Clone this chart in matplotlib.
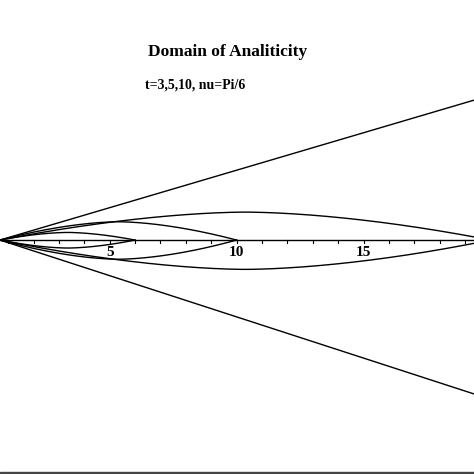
import numpy as np
import matplotlib.pyplot as plt

t_values = [3, 5, 10]
half_heights = [0.3, 0.72, 1.1]
x_start = 0.68
ray_slope = 0.295
ticks = [5, 10, 15]

fig = plt.figure(figsize=(4.74, 4.74), dpi=100)
ax = fig.add_axes([0, 0, 1, 1])
ax.set_xlim(x_start, 19.35)
ax.set_ylim(-9.21, 9.45)
ax.axis("off")

# rays from the origin
xs = np.linspace(x_start, 20, 50)
ax.plot(xs, ray_slope * (xs - x_start), color="black", lw=1)
ax.plot(xs, -ray_slope * 1.1 * (xs - x_start), color="black", lw=1)

# lens shaped domains
for t, h in zip(t_values, half_heights):
    x = np.linspace(x_start, 2 * t, 300)
    L = 2 * t - x_start
    u = (x - x_start) / L
    y = h * (1 - np.abs(2 * u - 1) ** 1.7)
    ax.plot(x, y, color="black", lw=1)
    ax.plot(x, -y * 1.05, color="black", lw=1)

# x axis with ticks
ax.axhline(0, color="black", lw=1)
for k in range(1, 20):
    ax.plot([k, k], [0, -0.12], color="black", lw=0.8)
for k in ticks:
    ax.text(k, -0.25, str(k), ha="center", va="top", family="Liberation Serif",
            fontweight="bold", fontsize=11)

fig.text(0.48, 0.89, "Domain of Analiticity", ha="center", va="center",
         family="Liberation Serif", fontweight="bold", fontsize=12.5)
fig.text(0.305, 0.82, "t=3,5,10, nu=Pi/6", ha="left", va="center",
         family="Liberation Serif", fontweight="bold", fontsize=10)

fig.patches.append(plt.Rectangle((0, 0), 1, 0.005, transform=fig.transFigure,
                                 color="#444444"))
fig.savefig("out.png", dpi=100)
